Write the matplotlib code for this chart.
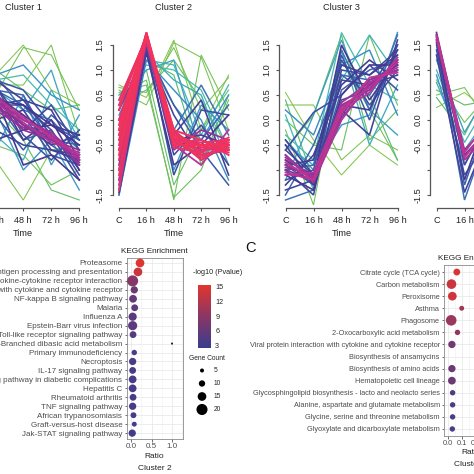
import matplotlib
matplotlib.use('Agg')
import matplotlib.pyplot as plt
import numpy as np
from matplotlib.colors import LinearSegmentedColormap

plt.rcParams['font.family'] = ['Liberation Sans', 'DejaVu Sans']

# ---------------- data ----------------
time_labels = ['C', '16 h', '48 h', '72 h', '96 h']
y_tick_values = [-1.5, -1.0, -0.5, 0.0, 0.5, 1.0, 1.5]
y_tick_labels = ['-1.5', '', '-0.5', '0.0', '0.5', '1.0', '1.5']

cluster1_profiles = [
    (1.0, 0.9, 1.50, 0.60, 0.30), (1.2, 0.7, 0.70, 1.50, -0.30), (0.9, 0.5, 1.45, 1.30, 0.20),
    (0.8, -0.8, -1.60, -0.60, -0.50), (1.3, -0.5, -0.70, -1.30, -1.00), (0.7, 0.2, -0.40, -1.40, -1.60),
    (1.1, 1.0, 0.60, 0.20, 0.30),
    (1.2, 0.8, 0.90, 0.30, -0.20), (1.0, -0.3, -0.80, 0.60, -0.40), (0.8, 0.6, 0.20, 1.00, -0.70),
    (1.4, -0.6, 0.50, -0.90, 0.10), (1.1, 0.2, -1.00, -0.40, -1.40), (1.3, 0.9, 1.10, 0.50, 0.20),
    (1.3, 0.9, 0.20, 0.00, -0.60), (1.2, 0.6, 0.50, -0.50, -0.90), (1.5, 0.1, -0.60, 0.10, -0.40),
    (1.0, 0.7, -0.30, -0.80, -0.20), (1.4, 0.3, 0.30, -0.20, -1.10), (1.1, -0.2, -0.50, -0.60, -0.70),
    (1.3, 0.8, 0.40, 0.20, -0.80), (1.2, -0.4, -0.20, -0.10, -0.30), (1.2, 0.5, -0.90, -0.70, -1.20),
    (1.2, 0.6, 0.30, -0.40, -0.50), (1.3, 0.4, -0.40, -0.20, -1.00), (1.1, 0.8, 0.60, -0.10, -0.40),
    (1.4, 0.2, 0.10, -0.70, -0.90), (1.2, 0.5, -0.20, 0.30, -0.60), (1.0, 0.3, 0.40, -0.30, -1.20),
    (1.3, 0.7, -0.10, -0.50, -0.30), (1.2, 0.0, 0.20, -0.60, -0.80), (1.1, 0.6, -0.40, 0.00, -1.00),
    (1.3, 0.4, 0.30, -0.10, -0.50),
    (1.3, 0.5, 0.10, -0.30, -0.80), (1.2, 0.3, -0.10, -0.40, -0.60), (1.4, 0.4, 0.00, -0.25, -0.75),
    (1.1, 0.35, -0.05, -0.45, -0.65), (1.25, 0.45, 0.05, -0.35, -0.70), (1.3, 0.2, -0.15, -0.30, -0.90),
    (1.2, 0.4, -0.10, -0.35, -0.85), (1.3, 0.3, -0.20, -0.40, -0.70), (1.1, 0.5, 0.00, -0.30, -0.80),
]
cluster1_membership = [
    0.05, 0.08, 0.10, 0.06, 0.12, 0.15, 0.18,
    0.30, 0.34, 0.38, 0.40, 0.42, 0.44,
    0.52, 0.56, 0.58, 0.60, 0.63, 0.65, 0.67, 0.69, 0.70,
    0.55, 0.57, 0.59, 0.61, 0.62, 0.64, 0.66, 0.68, 0.70, 0.71,
    0.76, 0.80, 0.83, 0.85, 0.87, 0.82, 0.78, 0.81, 0.84,
]

cluster2_profiles = [
    (0.70, 0.45, 1.60, -0.20, 0.90), (0.60, 0.30, 1.55, 1.25, -0.20), (0.65, 0.55, 1.45, 0.20, 0.85),
    (0.50, 0.80, -1.60, 1.30, 0.20), (0.55, 0.70, -1.55, -1.00, 0.40), (0.40, 1.00, -1.30, -0.20, 0.60),
    (0.30, 0.60, 1.20, 0.40, -0.60), (-0.20, 1.20, 0.90, -0.90, 0.50),
    (0.50, 1.10, 1.00, 0.60, -0.60), (0.20, 1.20, 1.10, -0.30, 0.70), (-0.40, 1.35, 0.80, 0.50, -0.90),
    (0.30, 1.00, 1.20, -0.70, -0.40), (-0.80, 1.40, -1.00, 0.30, -0.20), (0.10, 1.30, 0.30, -0.40, 0.50),
    (-1.50, 1.20, 0.60, 0.00, -1.20),
    (-1.50, 1.45, -0.20, 0.70, -0.30), (-1.40, 1.50, -0.50, -0.40, 0.30), (-1.20, 1.40, 0.30, -0.60, -1.30),
    (-0.30, 1.50, -1.10, 0.20, 0.10), (-1.00, 1.55, -0.70, -0.10, -0.90), (0.20, 1.40, 0.10, -0.80, -0.50),
    (-0.60, 1.50, -0.30, 0.40, -1.10), (-1.45, 1.35, -0.90, -0.50, 0.10),
    (-0.90, 1.60, -0.40, -0.30, -0.50), (-0.20, 1.60, -0.20, -0.70, -0.60), (-1.30, 1.55, -0.60, -0.20, -0.40),
    (0.00, 1.55, -0.50, -0.90, -0.20),
    (-1.20, 1.75, -0.30, -0.50, -0.50), (-0.80, 1.70, -0.35, -0.60, -0.45), (-0.40, 1.70, -0.25, -0.55, -0.60),
    (0.00, 1.65, -0.40, -0.45, -0.40), (0.40, 1.65, -0.20, -0.70, -0.55), (-1.00, 1.72, -0.45, -0.40, -0.70),
    (-0.60, 1.68, -0.30, -0.65, -0.35), (-0.20, 1.75, -0.50, -0.50, -0.50), (0.20, 1.70, -0.35, -0.80, -0.45),
    (-1.10, 1.62, -0.40, -0.70, -0.60), (-0.30, 1.66, -0.30, -0.55, -0.40),
    (-1.40, 1.72, -0.45, -0.60, -0.55), (0.30, 1.68, -0.30, -0.50, -0.65), (-0.10, 1.72, -0.40, -0.75, -0.50),
    (-0.70, 1.74, -0.20, -0.40, -0.60), (-0.50, 1.66, -0.55, -0.65, -0.40),
]
cluster2_membership = [
    0.05, 0.07, 0.09, 0.11, 0.13, 0.15, 0.17, 0.20,
    0.30, 0.33, 0.36, 0.39, 0.42, 0.44, 0.46,
    0.52, 0.55, 0.58, 0.61, 0.63, 0.65, 0.67, 0.69,
    0.75, 0.78, 0.82, 0.86,
    0.92, 0.94, 0.95, 0.96, 0.97, 0.98, 0.99, 1.00, 0.99, 0.97, 1.00,
    0.95, 0.96, 0.98, 1.00, 0.97,
]

cluster3_profiles = [
    (0.55, -0.40, -1.10, -0.50, -0.90), (0.30, 0.30, -0.80, -0.30, -0.60), (-0.20, -1.70, 1.20, 0.20, -0.80),
    (0.00, -0.50, -0.60, 1.70, 0.30), (-0.60, 0.10, 1.70, -0.40, 0.20), (0.40, -1.20, 0.30, 0.50, -0.80),
    (-0.30, -0.80, 1.75, 0.70, 0.40), (0.10, -1.40, 0.80, 1.70, 0.90), (-0.50, -0.90, 1.40, -0.50, 0.70),
    (-1.20, 0.10, 1.60, 0.20, -0.30), (-0.40, -1.00, -0.10, 0.10, 1.75), (0.20, -0.30, 1.10, 1.40, 0.10),
    (-1.60, -1.40, 1.40, 0.20, 1.70), (-1.50, -0.50, 0.90, 0.80, 1.10), (-0.90, -1.30, 1.30, 0.00, 1.50),
    (-0.60, 0.15, 0.50, 1.10, 0.60), (-1.00, -1.50, 1.00, 0.90, 1.40), (-0.40, -1.10, 0.20, -0.30, 1.60),
    (-1.30, -0.70, 0.70, 1.20, 0.80), (-0.70, -1.20, 1.50, 0.40, 1.20),
    (-1.00, -0.90, 0.90, 0.50, 1.30), (-0.80, -1.30, 0.60, 1.00, 1.20), (-1.20, -1.00, 1.20, 0.30, 1.00),
    (-0.60, -1.10, 0.40, 0.60, 1.50), (-1.40, -1.20, 0.80, 0.70, 0.90), (-0.90, -0.80, 1.10, 0.90, 1.30),
    (-0.50, -1.30, 0.30, 0.20, 1.40), (-1.10, -1.40, 0.50, 1.10, 1.10),
    (-0.80, -1.10, 0.20, 0.70, 1.10), (-1.00, -1.20, 0.10, 0.80, 1.00), (-0.90, -1.15, 0.30, 0.60, 1.20),
    (-0.70, -1.25, 0.00, 0.75, 1.05), (-1.10, -1.05, 0.25, 0.65, 1.15), (-0.85, -1.20, 0.15, 0.85, 0.95),
    (-0.95, -1.10, 0.05, 0.70, 1.15), (-0.75, -1.15, 0.35, 0.75, 1.00), (-1.05, -1.20, 0.20, 0.55, 1.25),
]
cluster3_membership = [
    0.05, 0.08, 0.11, 0.14, 0.17, 0.20,
    0.30, 0.33, 0.36, 0.40, 0.43, 0.46,
    0.52, 0.55, 0.58, 0.61, 0.64, 0.66, 0.68, 0.70,
    0.54, 0.57, 0.60, 0.62, 0.65, 0.67, 0.69, 0.71,
    0.76, 0.79, 0.82, 0.84, 0.86, 0.88, 0.80, 0.83, 0.87,
]

cluster4_profiles = [
    (0.25, 0.55, 0.10, -0.30, 0.20), (0.50, 0.65, -0.20, 0.40, -0.50), (0.80, -0.05, 0.60, -0.40, 0.10),
    (0.60, 0.30, 0.40, 0.00, -0.30), (0.45, -0.30, 0.80, 0.30, -0.60),
    (1.00, -0.45, 0.50, 0.20, -0.40), (0.75, -0.60, 0.20, -0.20, 0.30), (1.20, -0.25, 0.70, -0.10, -0.80),
    (0.90, -0.90, 0.10, 0.50, 0.00),
    (1.50, -1.60, 0.00, 0.30, -0.20), (1.60, -1.30, 0.30, -0.20, 0.10), (1.40, -1.10, -0.30, 0.20, 0.30),
    (1.70, -0.90, 0.20, 0.10, -0.50), (1.30, -1.45, -0.10, -0.30, 0.40), (1.55, -1.20, 0.40, 0.00, 0.00),
    (1.75, -0.70, -0.10, 0.00, -0.20), (1.65, -0.60, 0.00, -0.10, -0.30), (1.60, -0.80, -0.20, 0.10, -0.10),
    (1.70, -0.65, 0.10, -0.05, -0.25), (1.68, -0.75, -0.05, 0.05, -0.15),
]
cluster4_membership = [
    0.05, 0.09, 0.13, 0.17, 0.20,
    0.32, 0.36, 0.40, 0.44,
    0.52, 0.56, 0.60, 0.63, 0.66, 0.69,
    0.76, 0.80, 0.83, 0.86, 0.88,
]

# KEGG enrichment, cluster 2
b_pathways = [
    'Proteasome', 'Antigen processing and presentation', 'Cytokine-cytokine receptor interaction',
    'Viral protein interaction with cytokine and cytokine receptor', 'NF-kappa B signaling pathway',
    'Malaria', 'Influenza A', 'Epstein-Barr virus infection', 'Toll-like receptor signaling pathway',
    'C5-Branched dibasic acid metabolism', 'Primary immunodeficiency', 'Necroptosis',
    'IL-17 signaling pathway', 'AGE-RAGE signaling pathway in diabetic complications', 'Hepatitis C',
    'Rheumatoid arthritis', 'TNF signaling pathway', 'African trypanosomiasis',
    'Graft-versus-host disease', 'Jak-STAT signaling pathway',
]
b_ratio = [0.22, 0.17, 0.04, 0.08, 0.05, 0.09, 0.04, 0.04, 0.05, 1.00,
           0.08, 0.04, 0.04, 0.04, 0.04, 0.05, 0.04, 0.06, 0.08, 0.03]
b_logp = [15.0, 13.5, 8.5, 6.5, 6.0, 5.5, 5.2, 5.0, 4.5, np.nan,
          4.0, 3.8, 3.6, 3.6, 3.5, 3.5, 3.4, 3.3, 3.2, 3.2]
b_count = [15, 15, 20, 12, 13, 11, 14, 16, 11, 1,
           8, 12, 11, 13, 13, 11, 12, 9, 7, 12]
b_colorbar_ticks = [3, 6, 9, 12, 15]
b_size_legend = [5, 10, 15, 20]

# KEGG enrichment, cluster 3
c_pathways = [
    'Citrate cycle (TCA cycle)', 'Carbon metabolism', 'Peroxisome', 'Asthma', 'Phagosome',
    '2-Oxocarboxylic acid metabolism', 'Viral protein interaction with cytokine and cytokine receptor',
    'Biosynthesis of ansamycins', 'Biosynthesis of amino acids', 'Hematopoietic cell lineage',
    'Glycosphingolipid biosynthesis - lacto and neolacto series',
    'Alanine, aspartate and glutamate metabolism', 'Glycine, serine and threonine metabolism',
    'Glyoxylate and dicarboxylate metabolism',
]
c_ratio = [0.065, 0.027, 0.033, 0.10, 0.025, 0.07, 0.03, 0.50, 0.03, 0.03, 0.035, 0.035, 0.035, 0.033]
c_logp = [14.5, 13.5, 14.0, 10.5, 10.0, 9.5, 7.0, 6.0, 6.5, 6.5, 4.2, 4.0, 4.0, 3.8]
c_count = [11, 17, 15, 7, 19, 8, 12, 1, 12, 13, 8, 8, 8, 8]

# ---------------- styling helpers ----------------
W = H = 474.0
fig = plt.figure(figsize=(4.74, 4.74), dpi=100)


def add_ax(x0, y0, x1, y1, **kw):
    return fig.add_axes([x0 / W, 1 - y1 / H, (x1 - x0) / W, (y1 - y0) / H], **kw)


def ftext(x, y, s, **kw):
    fig.text(x / W, 1 - y / H, s, **kw)


line_cmap = LinearSegmentedColormap.from_list('mfuzz', [
    (0.00, '#8cc63e'), (0.18, '#5dbd6a'), (0.32, '#45b9b9'), (0.46, '#3b8cc6'),
    (0.60, '#3b52a2'), (0.72, '#46338f'), (0.86, '#b8339a'), (1.00, '#f2335c')])

kegg_cmap = LinearSegmentedColormap.from_list('kegg', ['#3a3d8f', '#8a3766', '#e3352f'])
KMIN, KMAX = 2.4, 15.4


def dot_size(c):
    d_px = 4.0 + (c - 5) * 0.47
    return (d_px * 0.72) ** 2


AX_COL = '#555555'
TXT_COL = '#222222'


def line_panel(xC, sx, profiles, members, title):
    y0, sy = 120.0, 50.0
    ax = add_ax(xC - 0.22 * sx, y0 - 1.92 * sy, xC + 4.22 * sx, y0 + 1.76 * sy)
    ax.patch.set_alpha(0)
    order = np.argsort(members, kind='stable')
    for i in order:
        m = members[i]
        ax.plot(range(5), profiles[i], color=line_cmap(m), lw=0.7 + 0.7 * m,
                solid_joinstyle='miter')
    ax.set_xlim(-0.22, 4.22)
    ax.set_ylim(-1.76, 1.92)
    for s in ['top', 'right']:
        ax.spines[s].set_visible(False)
    ax.spines['left'].set_bounds(-1.5, 1.5)
    ax.spines['bottom'].set_bounds(0, 4)
    for s in ['left', 'bottom']:
        ax.spines[s].set_color(AX_COL)
        ax.spines[s].set_linewidth(0.9)
    ax.set_xticks(range(5))
    ax.set_xticklabels(time_labels)
    ax.set_yticks(y_tick_values)
    ax.set_yticklabels(y_tick_labels, rotation=90, va='center')
    ax.tick_params(direction='out', length=2.4, width=0.8, color=AX_COL,
                   labelsize=6.6, labelcolor=TXT_COL, pad=3.5)
    xc = xC + 2 * sx
    ftext(xc, 8, title, ha='center', va='center', fontsize=6.6, color=TXT_COL)
    ftext(xc, 234, 'Time', ha='center', va='center', fontsize=6.6, color=TXT_COL)
    return ax


line_panel(-32.7, 28.0, cluster1_profiles, cluster1_membership, 'Cluster 1')
line_panel(119.0, 27.4, cluster2_profiles, cluster2_membership, 'Cluster 2')
line_panel(285.5, 28.0, cluster3_profiles, cluster3_membership, 'Cluster 3')
line_panel(436.5, 28.0, cluster4_profiles, cluster4_membership, 'Cluster 4')


def kegg_panel(box, xlim, pathways, ratio, logp, count, xticks, minor, fs):
    ax = add_ax(*box)
    n = len(pathways)
    ax.set_ylim(n - 1 + 0.6, -0.6)
    ax.set_xlim(*xlim)
    ax.set_axisbelow(True)
    ax.set_xticks(xticks)
    ax.set_xticks(minor, minor=True)
    ax.set_xticklabels(['%.1f' % v for v in xticks])
    ax.set_yticks(range(n))
    ax.set_yticklabels(pathways)
    ax.grid(True, which='major', color='#e6e6e6', lw=0.5)
    ax.grid(True, which='minor', axis='x', color='#f0f0f0', lw=0.4)
    ax.tick_params(which='minor', length=0)
    ax.tick_params(which='major', length=1.8, width=0.5, color='#333333',
                   labelsize=fs, labelcolor='#4d4d4d', pad=1.2)
    for s in ax.spines.values():
        s.set_color('#8a8a8a')
        s.set_linewidth(0.6)
    cols = [kegg_cmap((v - KMIN) / (KMAX - KMIN)) if not np.isnan(v) else '#222222' for v in logp]
    ax.scatter(ratio, range(n), s=[dot_size(c) for c in count], c=cols, edgecolors='none', zorder=3)
    return ax


# panel B (cluster 2)
kegg_panel((126.5, 257.6, 183.0, 438.5), ((126.5 - 131) / 41.0, (183 - 131) / 41.0),
           b_pathways, b_ratio, b_logp, b_count, [0.0, 0.5, 1.0], [0.25, 0.75, 1.25], 5.8)
ftext(154.5, 252, 'KEGG Enrichment', ha='center', va='center', fontsize=5.9, color=TXT_COL)
ftext(154.5, 456, 'Ratio', ha='center', va='center', fontsize=6.0, color=TXT_COL)
ftext(154.5, 469, 'Cluster 2', ha='center', va='center', fontsize=6.0, color=TXT_COL)

# colour bar legend
ftext(193, 273, '-log10 (Pvalue)', ha='left', va='center', fontsize=5.2, color=TXT_COL)
cax = add_ax(198, 285, 211, 348)
cax.imshow(np.linspace(KMIN, KMAX, 200)[:, None], aspect='auto', cmap=kegg_cmap,
           extent=(0, 1, KMIN, KMAX), origin='lower', vmin=KMIN, vmax=KMAX)
cax.set_xticks([])
cax.yaxis.tick_right()
cax.set_yticks(b_colorbar_ticks)
cax.set_yticklabels([str(v) for v in b_colorbar_ticks])
cax.tick_params(axis='y', length=0, labelsize=5.2, labelcolor=TXT_COL, pad=3)
for s in cax.spines.values():
    s.set_visible(False)

# size legend
ftext(207, 358, 'Gene Count', ha='center', va='center', fontsize=4.8, color=TXT_COL)
lax = add_ax(190, 364, 230, 416)
lax.set_xlim(0, 1)
lax.set_ylim(len(b_size_legend) - 0.5, -0.5)
lax.axis('off')
lax.scatter([0.3] * len(b_size_legend), range(len(b_size_legend)),
            s=[dot_size(c) for c in b_size_legend], c='black', edgecolors='none')
for i, c in enumerate(b_size_legend):
    lax.text(0.6, i, str(c), ha='left', va='center', fontsize=4.8, color=TXT_COL)

# panel C (cluster 3)
kegg_panel((444.0, 264.8, 498.0, 436.2), ((444 - 447.7) / 140.0, (498 - 447.7) / 140.0),
           c_pathways, c_ratio, c_logp, c_count, [0.0, 0.1, 0.2, 0.3], [0.05, 0.15, 0.25, 0.35], 5.3)
ftext(471, 258, 'KEGG Enrichment', ha='center', va='center', fontsize=5.9, color=TXT_COL)
ftext(471, 452, 'Ratio', ha='center', va='center', fontsize=6.0, color=TXT_COL)
ftext(471, 464, 'Cluster 3', ha='center', va='center', fontsize=6.0, color=TXT_COL)
ftext(251, 248, 'C', ha='center', va='center', fontsize=10.5, color='#111111')

fig.savefig('out.png', dpi=100)
